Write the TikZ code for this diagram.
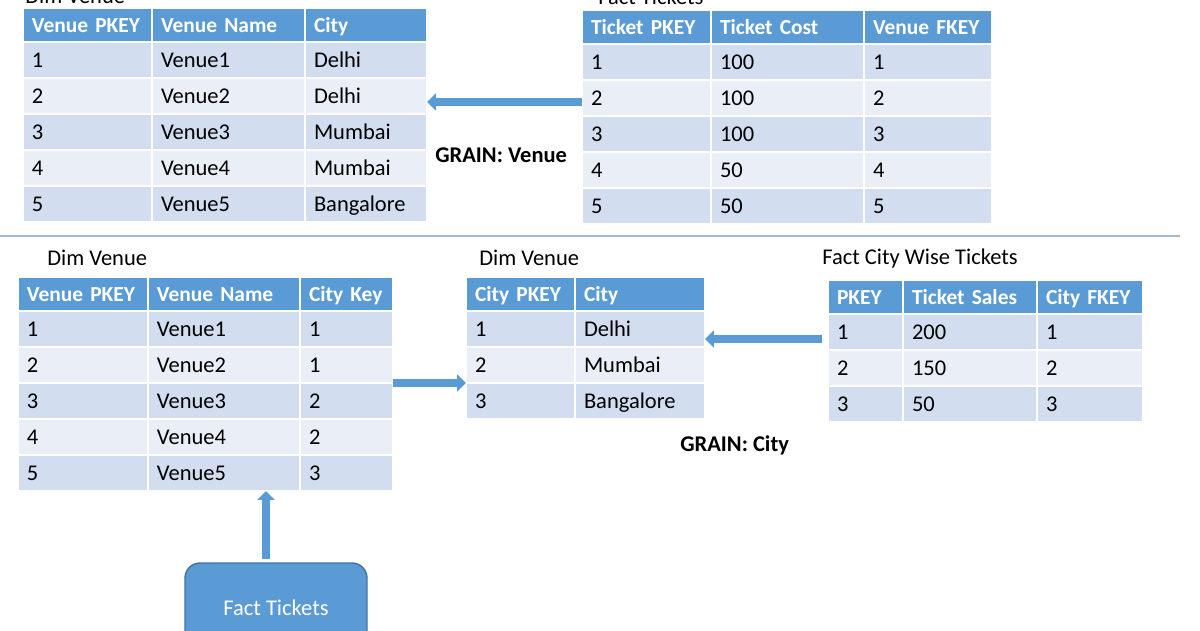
\documentclass[tikz,border=0pt]{standalone}
\usepackage{fontspec}
\setmainfont{Carlito}
\usetikzlibrary{arrows.meta}
\definecolor{hdblue}{HTML}{5B9BD5}
\definecolor{rowdark}{HTML}{D2DEEF}
\definecolor{rowlight}{HTML}{EAEFF7}
\definecolor{boxline}{HTML}{41719C}
\definecolor{sepline}{HTML}{A3B9D2}
\newcommand{\tabfont}{\fontsize{12.8}{15.4}\selectfont}
\newcommand{\headfont}{\fontsize{12.2}{14.6}\selectfont\bfseries}

\begin{document}
\begin{tikzpicture}[x=0.02cm, y=-0.02cm,
	every node/.style={font=\tabfont},
	cell/.style={anchor=north west, draw=white, line width=1.1pt, outer sep=0pt, inner xsep=0.18cm, inner ysep=0pt, text width=#1, text height=1.9ex, text depth=0.1ex, minimum height=0.72cm, align=left},
	hcell/.style={cell=#1, fill=hdblue, text=white, font=\headfont, minimum height=0.68cm},
	dark/.style={cell=#1, fill=rowdark},
	light/.style={cell=#1, fill=rowlight},
	title/.style={anchor=base west, inner sep=0pt},
	grain/.style={anchor=base west, inner sep=0pt, font=\tabfont\bfseries},
	link/.style={hdblue, line width=4pt, -{Triangle[length=5pt,width=9.5pt]}}]

	\useasboundingbox (0,0) rectangle (1200,630);

	% Dim Venue oben
	\node[title] (dvtitle) at (25,3) {Dim Venue};
	\node[hcell=2.22cm] (dvh1) at (23,8) {Venue~PKEY};
	\node[hcell=2.70cm] (dvh2) at (152,8) {Venue~Name};
	\node[hcell=2.08cm] (dvh3) at (305,8) {City};
	\node[dark=2.22cm] (dv11) at (23,42) {1};
	\node[dark=2.70cm] (dv12) at (152,42) {Venue1};
	\node[dark=2.08cm] (dv13) at (305,42) {Delhi};
	\node[light=2.22cm] (dv21) at (23,78) {2};
	\node[light=2.70cm] (dv22) at (152,78) {Venue2};
	\node[light=2.08cm] (dv23) at (305,78) {Delhi};
	\node[dark=2.22cm] (dv31) at (23,114) {3};
	\node[dark=2.70cm] (dv32) at (152,114) {Venue3};
	\node[dark=2.08cm] (dv33) at (305,114) {Mumbai};
	\node[light=2.22cm] (dv41) at (23,150) {4};
	\node[light=2.70cm] (dv42) at (152,150) {Venue4};
	\node[light=2.08cm] (dv43) at (305,150) {Mumbai};
	\node[dark=2.22cm] (dv51) at (23,186) {5};
	\node[dark=2.70cm] (dv52) at (152,186) {Venue5};
	\node[dark=2.08cm] (dv53) at (305,186) {Bangalore};

	% Fact Tickets oben
	\node[title] (fttitle) at (598,4) {Fact Tickets};
	\node[hcell=2.22cm] (fth1) at (582,10) {Ticket~PKEY};
	\node[hcell=2.70cm] (fth2) at (711,10) {Ticket~Cost};
	\node[hcell=2.20cm] (fth3) at (864,10) {Venue~FKEY};
	\node[dark=2.22cm] (ft11) at (582,44) {1};
	\node[dark=2.70cm] (ft12) at (711,44) {100};
	\node[dark=2.20cm] (ft13) at (864,44) {1};
	\node[light=2.22cm] (ft21) at (582,80) {2};
	\node[light=2.70cm] (ft22) at (711,80) {100};
	\node[light=2.20cm] (ft23) at (864,80) {2};
	\node[dark=2.22cm] (ft31) at (582,116) {3};
	\node[dark=2.70cm] (ft32) at (711,116) {100};
	\node[dark=2.20cm] (ft33) at (864,116) {3};
	\node[light=2.22cm] (ft41) at (582,152) {4};
	\node[light=2.70cm] (ft42) at (711,152) {50};
	\node[light=2.20cm] (ft43) at (864,152) {4};
	\node[dark=2.22cm] (ft51) at (582,188) {5};
	\node[dark=2.70cm] (ft52) at (711,188) {50};
	\node[dark=2.20cm] (ft53) at (864,188) {5};

	\node[grain] (grainv) at (435,162) {GRAIN: Venue};

	% Trennlinie
	\draw[sepline, line width=0.8pt] (0,236) -- (1180,236);

	% Dim Venue unten links
	\node[title] (bvtitle) at (47,265) {Dim Venue};
	\node[hcell=2.24cm] (bvh1) at (18,277) {Venue~PKEY};
	\node[hcell=2.68cm] (bvh2) at (148,277) {Venue~Name};
	\node[hcell=1.50cm] (bvh3) at (300,277) {City~Key};
	\node[dark=2.24cm] (bv11) at (18,311) {1};
	\node[dark=2.68cm] (bv12) at (148,311) {Venue1};
	\node[dark=1.50cm] (bv13) at (300,311) {1};
	\node[light=2.24cm] (bv21) at (18,347) {2};
	\node[light=2.68cm] (bv22) at (148,347) {Venue2};
	\node[light=1.50cm] (bv23) at (300,347) {1};
	\node[dark=2.24cm] (bv31) at (18,383) {3};
	\node[dark=2.68cm] (bv32) at (148,383) {Venue3};
	\node[dark=1.50cm] (bv33) at (300,383) {2};
	\node[light=2.24cm] (bv41) at (18,419) {4};
	\node[light=2.68cm] (bv42) at (148,419) {Venue4};
	\node[light=1.50cm] (bv43) at (300,419) {2};
	\node[dark=2.24cm] (bv51) at (18,455) {5};
	\node[dark=2.68cm] (bv52) at (148,455) {Venue5};
	\node[dark=1.50cm] (bv53) at (300,455) {3};

	% Dim Venue (City) Mitte
	\node[title] (cvtitle) at (479,265) {Dim Venue};
	\node[hcell=1.82cm] (cvh1) at (466,277) {City~PKEY};
	\node[hcell=2.24cm] (cvh2) at (575,277) {City};
	\node[dark=1.82cm] (cv11) at (466,311) {1};
	\node[dark=2.24cm] (cv12) at (575,311) {Delhi};
	\node[light=1.82cm] (cv21) at (466,347) {2};
	\node[light=2.24cm] (cv22) at (575,347) {Mumbai};
	\node[dark=1.82cm] (cv31) at (466,383) {3};
	\node[dark=2.24cm] (cv32) at (575,383) {Bangalore};

	% Fact City Wise Tickets
	\node[title] (fctitle) at (822,264) {Fact City Wise Tickets};
	\node[hcell=1.14cm] (fch1) at (828,280) {PKEY};
	\node[hcell=2.32cm] (fch2) at (903,280) {Ticket~Sales};
	\node[hcell=1.76cm] (fch3) at (1037,280) {City~FKEY};
	\node[dark=1.14cm] (fc11) at (828,314) {1};
	\node[dark=2.32cm] (fc12) at (903,314) {200};
	\node[dark=1.76cm] (fc13) at (1037,314) {1};
	\node[light=1.14cm] (fc21) at (828,350) {2};
	\node[light=2.32cm] (fc22) at (903,350) {150};
	\node[light=1.76cm] (fc23) at (1037,350) {2};
	\node[dark=1.14cm] (fc31) at (828,386) {3};
	\node[dark=2.32cm] (fc32) at (903,386) {50};
	\node[dark=1.76cm] (fc33) at (1037,386) {3};

	\node[grain] (grainc) at (680,451) {GRAIN: City};

	% Fact Tickets Box
	\node[draw=boxline, fill=hdblue, line width=0.8pt, rounded corners=0.3cm, minimum width=3.64cm, minimum height=1.8cm, text=white] (ftbox) at (276,608) {Fact Tickets};

	% Pfeile
	\coordinate (a1) at ([yshift=-0.08cm]ft21.west);
	\draw[link] (a1) -- (a1 -| dv23.east);
	\draw[link] (bv33.north east) -- (cv31.north west);
	\coordinate (a3) at ([shift={(-6,7)}]fc11.west);
	\draw[link] (a3) -- (a3 -| cv12.east);
	\coordinate (a4) at ([shift={(-10,-3)}]ftbox.north);
	\draw[link] (a4) -- (a4 |- bv52.south);

\end{tikzpicture}
\end{document}
